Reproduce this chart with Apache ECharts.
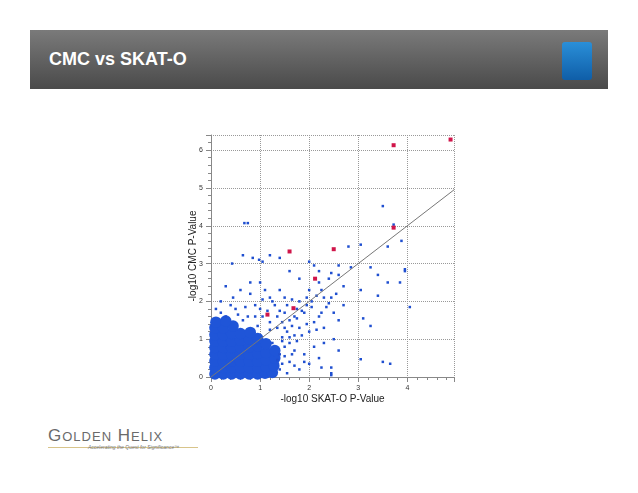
<!DOCTYPE html>
<html>
<head>
<meta charset="utf-8">
<script src="https://cdn.jsdelivr.net/npm/echarts@6/dist/echarts.min.js"></script>
<style>
body { margin: 0; width: 638px; height: 493px; background: #fff; position: relative; font-family: 'Liberation Sans', Arial, sans-serif; overflow: hidden; }
#bar { position: absolute; left: 30px; top: 30px; width: 578px; height: 59px; background: linear-gradient(#7a7a7a, #4a4a4a); }
#title { position: absolute; left: 19px; top: 19px; color: #fff; font-weight: bold; font-size: 18px; }
#logo { position: absolute; left: 532px; top: 12px; width: 30px; height: 38px; background: linear-gradient(#2a8fd8, #0f5ea8); border-radius: 3px; }
#main { position: absolute; left: 180px; top: 125px; width: 290px; height: 290px; }
#gh { position: absolute; left: 48px; top: 426px; color: #6a6a6a; font-size: 17px; letter-spacing: 1px; }
#tag { position: absolute; left: 88px; top: 444px; color: #777; font-size: 5px; font-style: italic; }
#line { position: absolute; left: 48px; top: 447px; width: 150px; height: 1px; background: #d8c48a; }
</style>
</head>
<body>
<div id="bar"><div id="title">CMC vs SKAT-O</div><div id="logo"></div></div>
<div id="main"></div>
<div id="gh">G<span style="font-size:13px">OLDEN</span> H<span style="font-size:13px">ELIX</span></div>
<div id="line"></div>
<div id="tag">Accelerating the Quest for Significance™</div>
<script>
// dense core (drawn with larger marks)
var corePoints = [
  [0.08,0.08],[0.25,0.08],[0.42,0.08],[0.6,0.08],[0.78,0.08],[0.95,0.08],[1.1,0.1],[1.25,0.12],
  [0.08,0.25],[0.25,0.25],[0.42,0.25],[0.6,0.25],[0.78,0.25],[0.95,0.25],[1.12,0.28],[1.28,0.3],
  [0.08,0.42],[0.25,0.42],[0.42,0.42],[0.6,0.42],[0.78,0.42],[0.95,0.42],[1.12,0.45],[1.3,0.5],
  [0.08,0.6],[0.25,0.6],[0.42,0.6],[0.6,0.6],[0.78,0.6],[0.95,0.62],[1.12,0.65],[1.3,0.7],
  [0.08,0.78],[0.25,0.78],[0.42,0.78],[0.6,0.78],[0.78,0.8],[0.95,0.82],[1.12,0.88],
  [0.08,0.95],[0.25,0.95],[0.42,0.95],[0.6,0.97],[0.78,1.0],[0.95,1.02],
  [0.08,1.12],[0.25,1.12],[0.42,1.15],[0.6,1.15],[0.8,1.18],
  [0.08,1.3],[0.25,1.3],[0.45,1.35],[0.1,1.45],[0.3,1.48]
];
// fringe points
var bluePoints = [
  [0.68,4.07],[0.75,4.07],[3.5,4.52],[3.72,4.03],[3.88,3.6],[3.6,3.45],[3.05,3.5],[2.8,3.45],
  [1.2,3.22],[0.65,3.22],[0.85,3.15],[0.43,3.0],[0.98,3.1],[1.05,3.05],[1.4,3.15],[2.0,3.05],
  [2.1,2.95],[3.95,2.85],[3.95,2.8],[3.85,2.5],[3.6,2.5],[3.4,2.7],[3.25,2.9],[3.4,2.15],
  [3.05,2.3],[3.1,1.55],[3.25,1.35],[4.05,1.85],[3.05,0.47],[3.5,0.4],[3.65,0.35],[2.45,0.05],
  [2.45,0.1],[2.45,0.25],[2.6,0.7],[2.3,0.9],[2.5,1.0],[2.0,2.3],[2.2,2.5],[2.4,2.6],
  [2.6,2.7],[2.7,2.4],[2.55,2.2],[2.3,2.1],[1.8,2.0],[1.95,2.1],[1.9,1.7],[2.05,1.85],
  [2.2,1.6],[2.5,1.7],[2.6,1.5],[1.8,1.3],[2.0,1.2],[1.7,1.1],[2.1,0.8],[1.9,0.6],
  [1.6,0.4],[1.8,0.2],[2.0,0.35],[1.4,0.2],[1.6,0.9],[1.4,0.6],[0.3,2.4],[0.45,2.1],
  [0.2,2.0],[0.6,2.3],[0.8,2.5],[1.0,2.5],[1.2,2.1],[1.4,2.3],[1.6,2.8],[1.3,1.9],
  [0.9,1.9],[0.5,1.8],[0.1,1.8],[0.8,2.2],[1.1,2.3],[1.5,1.7],[1.8,2.6],[2.2,2.8],
  [2.45,2.75],[2.6,2.95],[2.85,2.9],[1.5,1.3],[1.6,1.5],[1.45,1.05],[1.5,0.8],[1.55,0.1],
  [1.7,0.7],[1.75,1.55],[2.1,1.45],[2.3,1.3],[2.15,2.15],[1.35,1.6],[1.2,1.45],[1.05,1.6],
  [0.75,1.6],[0.3,1.6],[0.95,1.35],[1.2,1.25],[1.0,1.8],[2.35,1.85],[2.7,1.9],[1.25,0.9],
  [1.45,1.45],[1.55,1.2],[1.65,1.35],[1.7,1.6],[1.85,1.75],[1.95,1.9],[2.05,2.0],[2.25,2.3],
  [1.4,1.75],[1.55,1.9],[1.65,2.05],[1.75,1.8],[1.35,1.3],[1.45,0.95],[1.6,1.05],[1.75,0.95],
  [1.85,1.1],[1.95,1.4],[2.15,1.25],[2.25,1.7],[2.4,1.95],[2.45,2.1],[1.35,0.45],[1.45,0.35],
  [1.5,0.55],[1.65,0.6],[1.7,0.3],[1.9,0.4],[2.2,0.5],[2.25,0.25],[1.15,1.75],[0.9,1.6],
  [0.65,1.5],[0.55,1.65],[0.2,1.7],[0.4,1.9],[0.7,1.85],[1.05,2.05],[1.25,2.0],[1.5,2.1]
];
var redPoints = [[3.72,6.13],[4.88,6.28],[3.72,3.95],[1.6,3.32],[2.5,3.38],[2.12,2.6],[1.68,1.82],[1.15,1.65]];
var diagLine = [[0,0],[4.95,4.95]];

var chart = echarts.init(document.getElementById('main'));
chart.setOption({
  animation: false,
  grid: { left: 31, right: 16, top: 10, bottom: 38, outerBoundsMode: 'none' },
  xAxis: {
    type: 'value', min: 0, max: 4.95, interval: 1,
    name: '-log10 SKAT-O P-Value', nameLocation: 'middle', nameGap: 17, nameMoveOverlap: false,
    nameTextStyle: { fontSize: 10, color: '#222' },
    axisLine: { lineStyle: { color: '#888' } },
    axisTick: { show: true }, minorTick: { show: true, splitNumber: 5 },
    axisLabel: { fontSize: 7, color: '#333', showMaxLabel: false },
    splitLine: { lineStyle: { color: '#999', type: 'dotted' } }
  },
  yAxis: {
    type: 'value', min: 0, max: 6.4, interval: 1,
    name: '-log10 CMC P-Value', nameLocation: 'middle', nameGap: 13, nameMoveOverlap: false,
    nameTextStyle: { fontSize: 10, color: '#222' },
    axisLine: { show: true, lineStyle: { color: '#888' } },
    axisTick: { show: true }, minorTick: { show: true, splitNumber: 5 },
    axisLabel: { fontSize: 7, color: '#333', showMaxLabel: false },
    splitLine: { lineStyle: { color: '#999', type: 'dotted' } }
  },
  series: [
    { type: 'scatter', data: corePoints, symbol: 'circle', symbolSize: 11.5, itemStyle: { color: '#1f55d8', opacity: 1 } },
    { type: 'scatter', data: bluePoints, symbol: 'rect', symbolSize: 2.5, itemStyle: { color: '#1f4fd0', opacity: 1 } },
    { type: 'line', data: diagLine, symbol: 'none', lineStyle: { color: '#777', width: 1 } },
    { type: 'scatter', data: redPoints, symbol: 'rect', symbolSize: 4, itemStyle: { color: '#d0154a', opacity: 1 } }
  ]
});
</script>
</body>
</html>
